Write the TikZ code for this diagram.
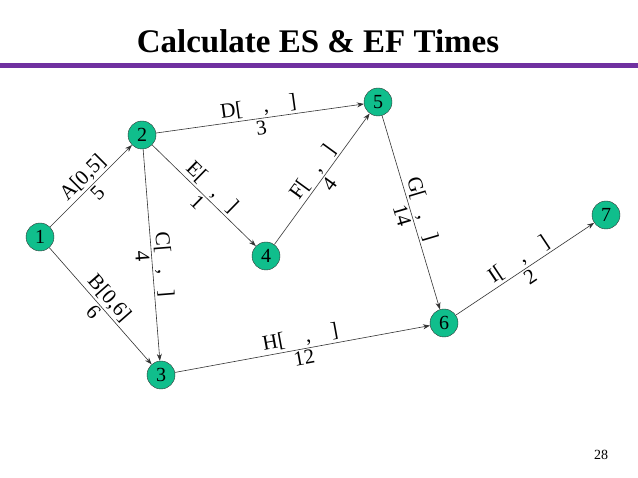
\documentclass[tikz,border=0pt]{standalone}
\usepackage{fontspec}
\setmainfont{Liberation Serif}
\usetikzlibrary{arrows.meta}
\definecolor{nodegreen}{RGB}{16,190,140}
\definecolor{barpurple}{RGB}{112,48,160}
\begin{document}
\begin{tikzpicture}[x=1pt,y=-1pt,
  ev/.style={circle,draw=black!80,fill=nodegreen,minimum size=28pt,inner sep=0pt,font=\fontsize{20}{20}\selectfont},
  act/.style={draw=black!80,line width=0.6pt,-{Stealth[length=7pt,width=5pt]}},
  lab/.style={font=\fontsize{21}{21}\selectfont,sloped,inner sep=2pt}]
\useasboundingbox (0,0) rectangle (638,478);
\node[font=\bfseries\fontsize{33}{33}\selectfont] (title) at (318,41) {Calculate ES \& EF Times};
\fill[barpurple] (0,63) rectangle (638,68);
\node[font=\fontsize{14}{14}\selectfont] (pg) at (601,455) {28};
\node[ev] (n1) at (40,237) {1};
\node[ev] (n2) at (142,135) {2};
\node[ev] (n3) at (161,375) {3};
\node[ev] (n4) at (266,256) {4};
\node[ev] (n5) at (378,102) {5};
\node[ev] (n6) at (444,323) {6};
\node[ev] (n7) at (606,215) {7};
\draw[act] (n1) -- node[lab,above]{A[0,5]} node[lab,below]{5} (n2);
\draw[act] (n1) -- node[lab,above]{B[0,6]} node[lab,below]{6} (n3);
\draw[act] (n2) -- node[lab,above,pos=0.55]{C[\ \ \ ,\ \ \ ]} node[lab,below,pos=0.5]{4} (n3);
\draw[act] (n2) -- node[lab,above]{D[\ \ \ \ ,\ \ \ \ ]} node[lab,below]{3} (n5);
\draw[act] (n2) -- node[lab,above]{E[\ \ \ ,\ \ \ ]} node[lab,below]{1} (n4);
\draw[act] (n4) -- node[lab,above]{F[\ \ \ ,\ \ \ ]} node[lab,below]{4} (n5);
\draw[act] (n5) -- node[lab,above]{G[\ \ \ ,\ \ \ ]} node[lab,below]{14} (n6);
\draw[act] (n3) -- node[lab,above]{H[\ \ \ \ ,\ \ \ \ ]} node[lab,below]{12} (n6);
\draw[act] (n6) -- node[lab,above]{I[\ \ \ \ ,\ \ \ \ ]} node[lab,below]{2} (n7);
\end{tikzpicture}
\end{document}
